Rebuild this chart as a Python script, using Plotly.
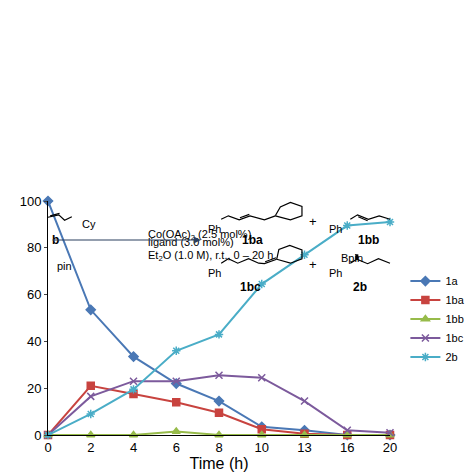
import plotly.graph_objects as go

# data
times = ["0", "2", "4", "6", "8", "10", "13", "16", "20"]
names = ["1a", "1ba", "1bb", "1bc", "2b"]
y_1a = [100, 53.5, 33.5, 22, 14.5, 3.5, 2, 0, 0]
y_1ba = [0, 21, 17.5, 14, 9.5, 2.5, 0.5, 0, 0]
y_1bb = [0, 0, 0, 1.5, 0, 0, 0, 0, 0]
y_1bc = [0, 16.5, 23, 23, 25.5, 24.5, 14.5, 2, 1]
y_2b = [0, 9, 19.5, 36, 43, 64.5, 77, 89.5, 91]

colors = ["#4a78b5", "#c8433f", "#97bb4a", "#7c5a9c", "#4aadc7"]
symbols = ["diamond", "square", "triangle-up", "x-thin-open", "asterisk-open"]

W = 474
fig = go.Figure()
for name, ys, c, s in zip(names, [y_1a, y_1ba, y_1bb, y_1bc, y_2b], colors, symbols):
    fig.add_trace(go.Scatter(
        x=times, y=ys, name=name, mode="lines+markers", cliponaxis=False,
        line=dict(color=c, width=2),
        marker=dict(symbol=s, size=7, color=c, line=dict(color=c, width=1.5)),
    ))


def poly(points, width=1.2):
    path = "M " + " L ".join(f"{p[0] / W:.4f},{1 - p[1] / W:.4f}" for p in points)
    fig.add_shape(type="path", path=path, xref="paper", yref="paper",
                  line=dict(color="black", width=width))


def text(x, y, s, size=12, bold=False):
    fig.add_annotation(x=x / W, y=1 - y / W, xref="paper", yref="paper",
                       text=f"<b>{s}</b>" if bold else s, showarrow=False,
                       font=dict(size=size, color="black"))


# reaction scheme (top part, cropped like the original)
poly([(0, 33), (15, 28), (23, 39), (33, 32)])
poly([(3, 30), (16, 25)])
text(44, 30, "Cy", 11)
text(3, 61, "b", 12, True)
text(10, 115, "pin", 11)
text(136, 50, "Co(OAc)<sub>2</sub> (2.5 mol%)", 11)
text(136, 66, "ligand (3.0 mol%)", 11)
text(136, 93, "Et<sub>2</sub>O (1.0 M), r.t., 0 – 20 h", 11)
fig.add_annotation(x=212 / W, y=1 - 79 / W, ax=-150, ay=0,
                   xref="paper", yref="paper",
                   showarrow=True, arrowhead=2, arrowsize=1.2, arrowwidth=1.2, text="")

hexa = [(315, 30), (322, 12), (336, 3), (352, 11), (352, 30), (336, 38), (315, 30)]
text(231, 40, "Ph", 11)
poly([(240, 37), (250, 30), (265, 38), (280, 30), (300, 38), (315, 30)])
poly([(266, 34), (279, 27)])
poly(hexa)
text(283, 61, "1ba", 12, True)
text(375, 23, "+", 13)
text(410, 40, "Ph", 11)
poly([(419, 37), (429, 28), (444, 37), (459, 30), (474, 37)])
poly([(430, 32), (443, 40)])
text(462, 61, "1bb", 12, True)

text(231, 129, "Ph", 11)
poly([(240, 126), (250, 117), (263, 126), (278, 117), (292, 126), (300, 127), (317, 118)])
poly([(301, 123), (316, 115)])
poly([(317, 118), (320, 98), (335, 90), (352, 99), (352, 117), (336, 126), (317, 118)])
text(280, 156, "1bc", 12, True)
text(375, 110, "+", 13)
text(440, 100, "Bpin", 11)
text(410, 129, "Ph", 11)
poly([(419, 126), (428, 118), (443, 127), (458, 117), (474, 126)])
poly([(428, 118), (428, 108)], width=3)
text(445, 156, "2b", 12, True)

fig.update_layout(
    width=W, height=W, margin=dict(l=27, r=47, t=193, b=47),
    paper_bgcolor="white", plot_bgcolor="white",
    font=dict(family="Liberation Sans, Arial", size=13, color="black"),
    showlegend=True,
    legend=dict(x=1.045, y=0.72, xanchor="left", yanchor="top",
                font=dict(size=11), tracegroupgap=10, itemwidth=30,
                bgcolor="rgba(0,0,0,0)"),
    xaxis=dict(type="category", range=[0, 8], showline=True, linecolor="black",
               ticks="", showgrid=False, title=dict(text="Time (h)", standoff=4),
               tickfont=dict(size=13)),
    yaxis=dict(range=[0, 100], dtick=20, showline=True, linecolor="black",
               showgrid=False, zeroline=False, ticks="outside", ticklen=3,
               tickfont=dict(size=13)),
)

fig.write_html("out.html")
